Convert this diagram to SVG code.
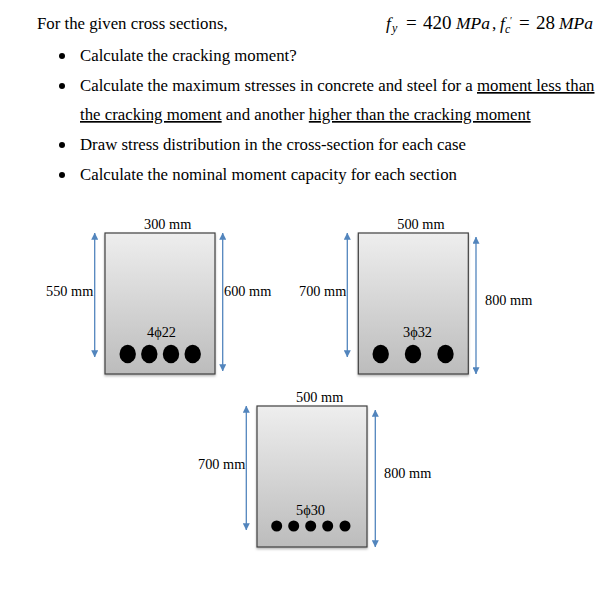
<svg xmlns="http://www.w3.org/2000/svg" width="612" height="597" viewBox="0 0 612 597">
<style>
text{font-family:"Liberation Serif","Times New Roman",serif;fill:#000}
.b{font-size:16.8px}
.l{font-size:14.3px}
.m{font-size:17.5px}
.n{font-size:19px}
.i{font-style:italic}
.s{font-size:12px}
.beam{fill:url(#g);stroke:#404040;stroke-width:1.2;filter:url(#s)}
.arr{stroke:#5285bd;stroke-width:1.3;fill:none;marker-start:url(#a);marker-end:url(#a)}
</style>
<defs>
<linearGradient id="g" x1="0" y1="0" x2="0" y2="1"><stop offset="0" stop-color="#eeeeee"/><stop offset="1" stop-color="#bcbcbc"/></linearGradient>
<filter id="s" x="-5%" y="-5%" width="110%" height="110%"><feDropShadow dx="0" dy="1.5" stdDeviation="1" flood-color="#000" flood-opacity=".3"/></filter>
<marker id="a" viewBox="0 0 10 10" refX="9.5" refY="5" markerWidth="7" markerHeight="7" markerUnits="userSpaceOnUse" orient="auto-start-reverse"><path d="M0 0L10 5L0 10Z" fill="#5285bd"/></marker>
</defs>
<g id="text-block">
<text class="b" x="37" y="29">For the given cross sections,</text>
<text class="m i" x="386" y="29">f</text><text class="s i" x="392" y="32">y</text>
<text class="n" x="406" y="29">=</text><text class="n" x="423" y="29">420</text><text class="m i" x="456" y="29">MPa</text>
<text class="m" x="492" y="29">,</text><text class="m i" x="500" y="29">f</text><text class="s i" x="505" y="33">c</text><text x="510" y="24" font-size="10">′</text>
<text class="n" x="519" y="29">=</text><text class="n" x="536" y="29">28</text><text class="m i" x="559" y="29">MPa</text>
<circle cx="62" cy="56" r="3"/><text class="b" x="80" y="61">Calculate the cracking moment?</text>
<circle cx="62" cy="86" r="3"/><text class="b" x="80" y="91">Calculate the maximum stresses in concrete and steel for a <tspan text-decoration="underline">moment less than</tspan></text>
<text class="b" x="80" y="120"><tspan text-decoration="underline">the cracking moment</tspan> and another <tspan text-decoration="underline">higher than the cracking moment</tspan></text>
<circle cx="62" cy="145" r="3"/><text class="b" x="80" y="150">Draw stress distribution in the cross-section for each case</text>
<circle cx="62" cy="175" r="3"/><text class="b" x="80" y="180">Calculate the nominal moment capacity for each section</text>
</g>
<g id="connectors">
<path class="arr" d="M94.7 233V357"/>
<path class="arr" d="M222.7 233V371"/>
<path class="arr" d="M347.3 233V357"/>
<path class="arr" d="M476 237V374"/>
<path class="arr" d="M246.3 406V530"/>
<path class="arr" d="M375.3 410V547"/>
</g>
<g id="section-1">
<rect class="beam" x="105" y="233" width="110" height="141"/>
<ellipse cx="127.7" cy="354" rx="8.2" ry="9.2"/><ellipse cx="149.3" cy="354" rx="8.2" ry="9.2"/><ellipse cx="171" cy="354" rx="8.2" ry="9.2"/><ellipse cx="192.7" cy="354" rx="8.2" ry="9.2"/>
<text class="l" x="144" y="229">300 mm</text>
<text class="l" x="46" y="296">550 mm</text>
<text class="l" x="224" y="296">600 mm</text>
<text class="l" x="147" y="337">4ϕ22</text>
</g>
<g id="section-2">
<rect class="beam" x="358.3" y="233" width="110" height="141"/>
<ellipse cx="380.7" cy="354" rx="8.2" ry="9.2"/><ellipse cx="413" cy="354" rx="8.2" ry="9.2"/><ellipse cx="445.5" cy="354" rx="8.2" ry="9.2"/>
<text class="l" x="397.3" y="229">500 mm</text>
<text class="l" x="299" y="296">700 mm</text>
<text class="l" x="485" y="305">800 mm</text>
<text class="l" x="403" y="337">3ϕ32</text>
</g>
<g id="section-3">
<rect class="beam" x="257" y="406" width="110" height="141"/>
<circle cx="276.7" cy="526" r="5.5"/><circle cx="293.7" cy="526" r="5.5"/><circle cx="310.7" cy="526" r="5.5"/><circle cx="327.7" cy="526" r="5.5"/><circle cx="345" cy="526" r="5.5"/>
<text class="l" x="296" y="402">500 mm</text>
<text class="l" x="198" y="469">700 mm</text>
<text class="l" x="384" y="478">800 mm</text>
<text class="l" x="296" y="515">5ϕ30</text>
</g>
</svg>
